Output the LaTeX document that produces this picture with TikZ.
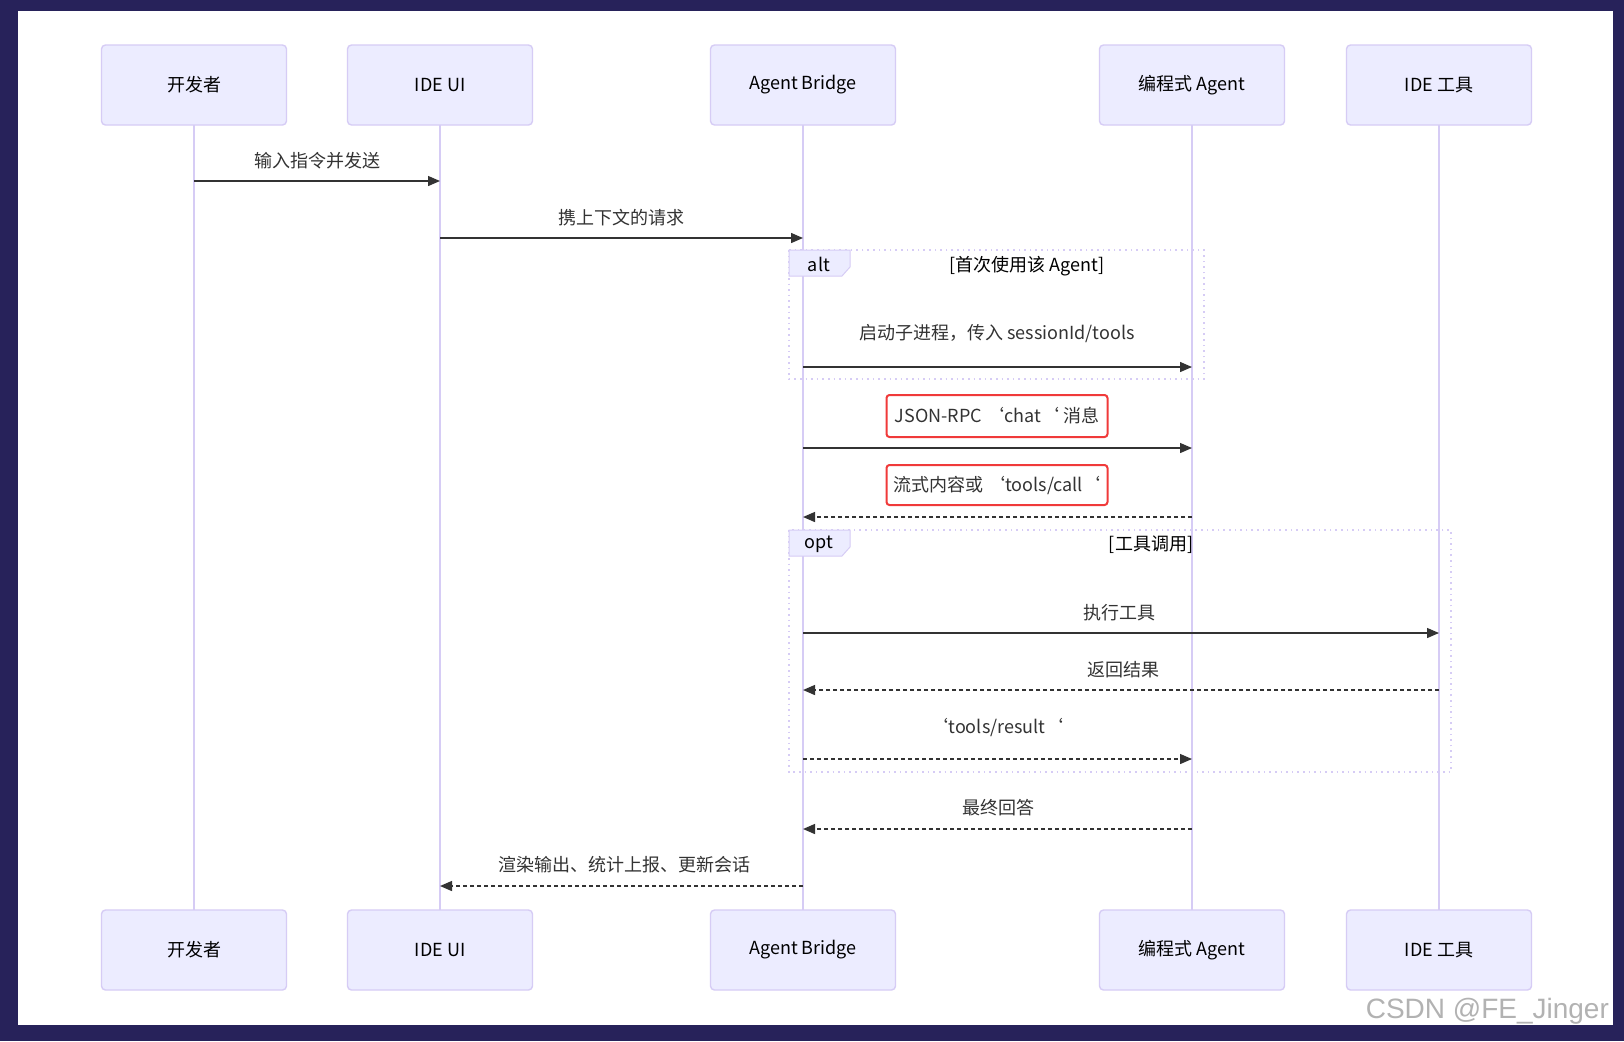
\documentclass[tikz,border=0pt]{standalone}
\usepackage{fontspec}
\setmainfont{Noto Sans CJK SC}
\usetikzlibrary{arrows.meta}
\definecolor{bgnavy}{HTML}{27225A}
\definecolor{actfill}{HTML}{ECECFF}
\definecolor{actline}{HTML}{D6CCF5}
\definecolor{txt}{HTML}{333333}
\definecolor{redbox}{HTML}{F03A3A}
\begin{document}
\begin{tikzpicture}[x=0.5pt,y=-0.5pt,
  actor/.style={draw=actline,fill=actfill,line width=0.7pt,rounded corners=2pt,minimum width=92.5pt,minimum height=40pt,font=\fontsize{9}{11}\selectfont,text=black},
  life/.style={draw=actline,line width=1pt},
  msg/.style={draw=txt,line width=0.7pt,-{Triangle[length=6pt,width=5pt]}},
  rep/.style={msg,dash pattern=on 2pt off 1.5pt},
  lbl/.style={font=\fontsize{9}{11}\selectfont,text=txt},
  frame/.style={draw=actline,line width=0.8pt,dotted},
  tab/.style={fill=actfill,draw=actline,line width=0.5pt}
]
\useasboundingbox (0,0) rectangle (1624,1041);
\fill[bgnavy] (0,0) rectangle (1624,1041);
\fill[white] (18,11) rectangle (1613,1025);
% lifelines
\foreach \n/\x in {a/194,b/440,c/803,d/1192,e/1439}{
  \coordinate (\n t) at (\x,125); \coordinate (\n b) at (\x,910);
  \draw[life] (\n t) -- (\n b);
}
% actors
\foreach \n/\x/\t in {a/194/开发者,b/440/IDE UI,c/803/Agent Bridge,d/1192/编程式 Agent,e/1439/IDE 工具}{
  \node[actor] (\n1) at (\x,85) {\t};
  \node[actor] (\n2) at (\x,950) {\t};
}
% frames
\draw[frame] (789,250) rectangle (1204,379);
\path[tab] (789,250) -- (850,250) -- (850,267) -- (842,276) -- (789,276) -- cycle;
\node[lbl,text=black] (altl) at (819,264) {alt};
\node[lbl,text=black] (altt) at (1027,266) {[首次使用该 Agent]};
\draw[frame] (789,530) rectangle (1451,772);
\path[tab] (789,530) -- (850,530) -- (850,547) -- (842,556) -- (789,556) -- cycle;
\node[lbl,text=black] (optl) at (819,544) {opt};
\node[lbl,text=black] (optt) at (1151,545) {[工具调用]};
% message coordinates
\foreach \i/\y in {1/181,2/238,3/367,4/448,5/517,6/633,7/690,8/759,9/829,10/886}{
  \foreach \n/\x in {a/194,b/440,c/803,d/1192,e/1439}{\coordinate (\n\i) at (\x,\y);}
}
\draw[msg] (a1) -- (b1); \node[lbl] (l1) at (317,161) {输入指令并发送};
\draw[msg] (b2) -- (c2); \node[lbl] (l2) at (621,218) {携上下文的请求};
\draw[msg] (c3) -- (d3); \node[lbl] (l3) at (997,334) {启动子进程，传入 sessionId/tools};
\draw[msg] (c4) -- (d4);
\node[lbl,draw=redbox,line width=1pt,rounded corners=1.5pt,minimum width=110.5pt,minimum height=21pt] (l4) at (997,416) {JSON-RPC `chat` 消息};
\draw[rep] (d5) -- (c5);
\node[lbl,draw=redbox,line width=1pt,rounded corners=1.5pt,minimum width=110.5pt,minimum height=20pt] (l5) at (997,485) {流式内容或 `tools/call`};
\draw[msg] (c6) -- (e6); \node[lbl] (l6) at (1119,613) {执行工具};
\draw[rep] (e7) -- (c7); \node[lbl] (l7) at (1123,670) {返回结果};
\draw[rep] (c8) -- (d8); \node[lbl] (l8) at (997,727) {`tools/result`};
\draw[rep] (d9) -- (c9); \node[lbl] (l9) at (998,808) {最终回答};
\draw[rep] (c10) -- (b10); \node[lbl] (l10) at (624,865) {渲染输出、统计上报、更新会话};
% watermark
\node[font=\fontsize{14}{16}\selectfont,text=white,draw=none,anchor=east] (wm) at (1616,1011) {\fontspec{Liberation Sans}\color{gray!60}CSDN @FE\_Jinger};
\end{tikzpicture}
\end{document}
